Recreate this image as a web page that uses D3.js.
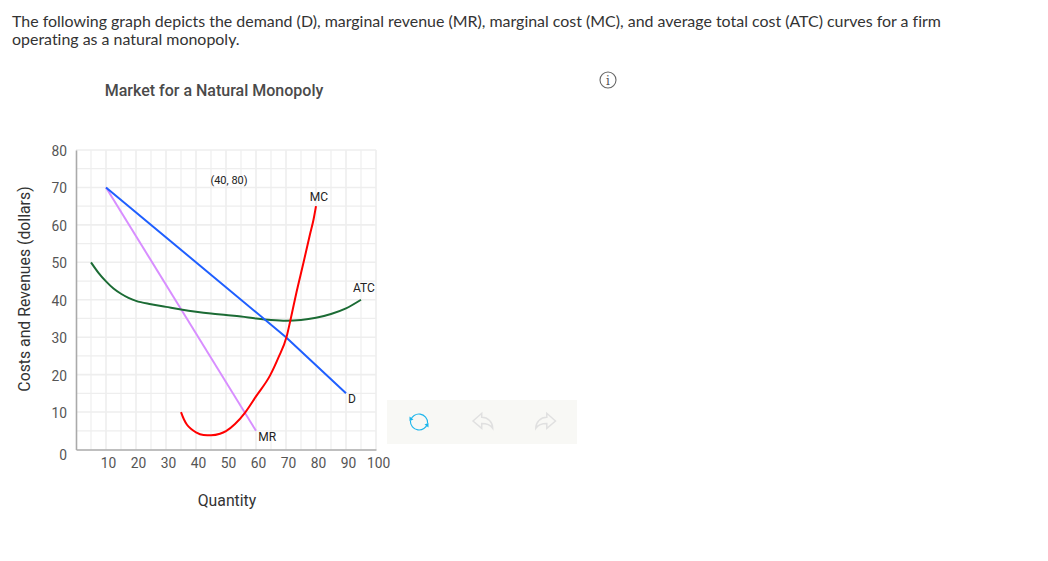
<!DOCTYPE html>
<html>
<head>
<meta charset="utf-8">
<script src="https://cdn.jsdelivr.net/npm/d3@7"></script>
<style>
  html, body { margin: 0; padding: 0; background: #fff; }
  svg { display: block; }
  text { font-family: Roboto, sans-serif; }
</style>
</head>
<body>
<div id="chart"></div>
<script>
const question_lines = [
    "The following graph depicts the demand (D), marginal revenue (MR), marginal cost (MC), and average total cost (ATC) curves for a firm",
    "operating as a natural monopoly."
];
const chart_title = "Market for a Natural Monopoly";
const x_title = "Quantity";
const y_title = "Costs and Revenues (dollars)";

const x_ticks = [10, 20, 30, 40, 50, 60, 70, 80, 90, 100];
const y_ticks = [10, 20, 30, 40, 50, 60, 70, 80];
const grid_values = [5, 10, 15, 20, 25, 30, 35, 40, 45, 50, 55, 60, 65, 70, 75, 80, 85, 90, 95, 100];

const demand = [[10, 70], [70, 30], [90, 15]];
const marginal_revenue = [[10, 70], [60, 5]];
const marginal_cost = [[35, 10], [36, 8], [37, 6.6], [38.5, 5.4], [40, 4.6], [42.5, 3.9], [45, 3.8], [48, 4.2], [50, 4.9], [53, 6.8], [56.3, 9.8],
    [60, 14.2], [64.7, 19.8], [67.5, 24.6], [70.2, 30.1], [71.6, 35], [73.5, 42], [75.8, 49.8], [78, 57.5], [79.2, 61.5], [80, 65]];
const average_cost = [[5, 50], [7.5, 47.2], [10, 44.9], [12.5, 43], [15, 41.6], [17.5, 40.5], [20, 39.7], [25, 38.8], [30, 38.1], [35, 37.4],
    [40, 36.8], [45, 36.3], [50, 35.9], [55, 35.5], [60, 35], [65, 34.6], [70, 34.4], [75, 34.6], [80, 35.2], [85, 36.2], [90, 37.7], [95, 40]];

const curve_labels = ["(40, 80)", "MC", "ATC", "D", "MR"];
const curve_label_x = [51, 81, 96, 92, 63.7];
const curve_label_y = [71, 66.3, 42.1, 12.5, 2.2];

const width = 1048, height = 561;
const marginLeft = 76, marginTop = 150;
const plotWidth = 300, plotHeight = 299.5;

const svg = d3.select("#chart")
    .append("svg")
    .attr("width", width)
    .attr("height", height);

const x = d3.scaleLinear().domain([0, 100]).range([marginLeft, marginLeft + plotWidth]);
const y = d3.scaleLinear().domain([0, 80]).range([marginTop + plotHeight, marginTop]);

// question text
svg.selectAll(".question")
    .data(question_lines)
    .join("text")
    .attr("class", "question")
    .attr("x", 12)
    .attr("y", (d, i) => 27 + i * 18)
    .attr("fill", "#333")
    .style("font-family", "Lato, sans-serif")
    .style("font-size", "15.95px")
    .style("font-variant-ligatures", "none")
    .text(d => d);

svg.append("text")
    .attr("x", 214)
    .attr("y", 96)
    .attr("text-anchor", "middle")
    .attr("fill", "#4a4a4a")
    .style("font-size", "16px")
    .style("font-weight", 500)
    .text(chart_title);

// grid
svg.selectAll(".vgrid")
    .data(grid_values)
    .join("line")
    .attr("x1", d => x(d))
    .attr("x2", d => x(d))
    .attr("y1", y(80))
    .attr("y2", y(0))
    .attr("stroke", "#eeeeee")
    .attr("stroke-width", d => d % 10 == 0 ? 1.6 : 1.2);

svg.selectAll(".hgrid")
    .data(grid_values.filter(d => d <= 80))
    .join("line")
    .attr("x1", x(0))
    .attr("x2", x(100))
    .attr("y1", d => y(d))
    .attr("y2", d => y(d))
    .attr("stroke", "#eeeeee")
    .attr("stroke-width", d => d % 10 == 0 ? 1.6 : 1.2);

// axes
const xAxis = svg.append("g")
    .attr("transform", `translate(0,${y(0)})`)
    .call(d3.axisBottom(x).tickValues(x_ticks).tickSize(0).tickPadding(9));

const yAxis = svg.append("g")
    .attr("transform", `translate(${x(0)},0)`)
    .call(d3.axisLeft(y).tickValues(y_ticks).tickSize(0).tickPadding(9));

[xAxis, yAxis].forEach(a => {
    a.selectAll("text")
        .attr("fill", "#555")
        .style("font-family", "Roboto, sans-serif")
        .style("font-size", "13.8px");
    a.select(".domain").attr("stroke", "#aaaaaa").attr("stroke-width", 1.6);
});
xAxis.selectAll("text").attr("dx", 2);
yAxis.selectAll("text").attr("dy", "0.39em");

svg.append("text")
    .attr("x", 67)
    .attr("y", y(0) + 10.5)
    .attr("text-anchor", "end")
    .attr("fill", "#555")
    .style("font-size", "13.8px")
    .text("0");

svg.append("text")
    .attr("transform", `translate(30,289) rotate(-90)`)
    .attr("text-anchor", "middle")
    .attr("fill", "#333")
    .style("font-size", "15.8px")
    .text(y_title);

svg.append("text")
    .attr("x", 227)
    .attr("y", 505.5)
    .attr("text-anchor", "middle")
    .attr("fill", "#333")
    .style("font-size", "15.8px")
    .text(x_title);

// curves
const straight = d3.line().x(d => x(d[0])).y(d => y(d[1]));
const smooth = d3.line().x(d => x(d[0])).y(d => y(d[1])).curve(d3.curveMonotoneX);

svg.append("path").attr("d", straight(marginal_revenue))
    .attr("fill", "none").attr("stroke", "#d88eff").attr("stroke-width", 2);
svg.append("path").attr("d", smooth(average_cost))
    .attr("fill", "none").attr("stroke", "#1b6b34").attr("stroke-width", 2);
svg.append("path").attr("d", straight(demand))
    .attr("fill", "none").attr("stroke", "#1f5fff").attr("stroke-width", 2);
svg.append("path").attr("d", smooth(marginal_cost))
    .attr("fill", "none").attr("stroke", "#ff0000").attr("stroke-width", 2);

svg.selectAll(".curve_label")
    .data(curve_labels)
    .join("text")
    .attr("class", "curve_label")
    .attr("x", (d, i) => x(curve_label_x[i]))
    .attr("y", (d, i) => y(curve_label_y[i]))
    .attr("text-anchor", "middle")
    .attr("fill", "#222")
    .style("font-size", d => d == "(40, 80)" ? "11px" : "12px")
    .text(d => d);

// tool panel
svg.append("rect")
    .attr("x", 387).attr("y", 400)
    .attr("width", 190).attr("height", 44)
    .attr("fill", "#f8f8f5");

const reset = svg.append("g").attr("transform", "translate(419,422)");
reset.append("path")
    .attr("d", "M-8.5,-1.5 A8.7,8.7 0 0 1 8.6,1 M8.5,1.5 A8.7,8.7 0 0 1 -8.6,-1")
    .attr("fill", "none").attr("stroke", "#1cb5ec").attr("stroke-width", 1.1);
reset.append("path").attr("d", "M-9.5,-5.5 L-5.5,-2.5 L-9.5,-1 Z").attr("fill", "#1cb5ec");
reset.append("path").attr("d", "M9.5,5.5 L5.5,2.5 L9.5,1 Z").attr("fill", "#1cb5ec");

const arrow = "M-10,0 L-1.3,-7.7 L-1.3,-3.7 C5,-3.7 9.7,1 9.7,7.3 C7,3.5 3,2.6 -1.3,2.6 L-1.3,7.3 Z";
svg.append("path").attr("d", arrow)
    .attr("transform", "translate(483,421)")
    .attr("fill", "none").attr("stroke", "#e0e0e0").attr("stroke-width", 1.5);
svg.append("path").attr("d", arrow)
    .attr("transform", "translate(545.5,421) scale(-1,1)")
    .attr("fill", "none").attr("stroke", "#e0e0e0").attr("stroke-width", 1.5);

// info icon
svg.append("circle")
    .attr("cx", 608).attr("cy", 80).attr("r", 8)
    .attr("fill", "none").attr("stroke", "#666").attr("stroke-width", 1.1);
svg.append("text")
    .attr("x", 608).attr("y", 84.5)
    .attr("text-anchor", "middle")
    .attr("fill", "#555")
    .style("font-family", "'DejaVu Serif', serif")
    .style("font-size", "12px")
    .text("i");
</script>
</body>
</html>
